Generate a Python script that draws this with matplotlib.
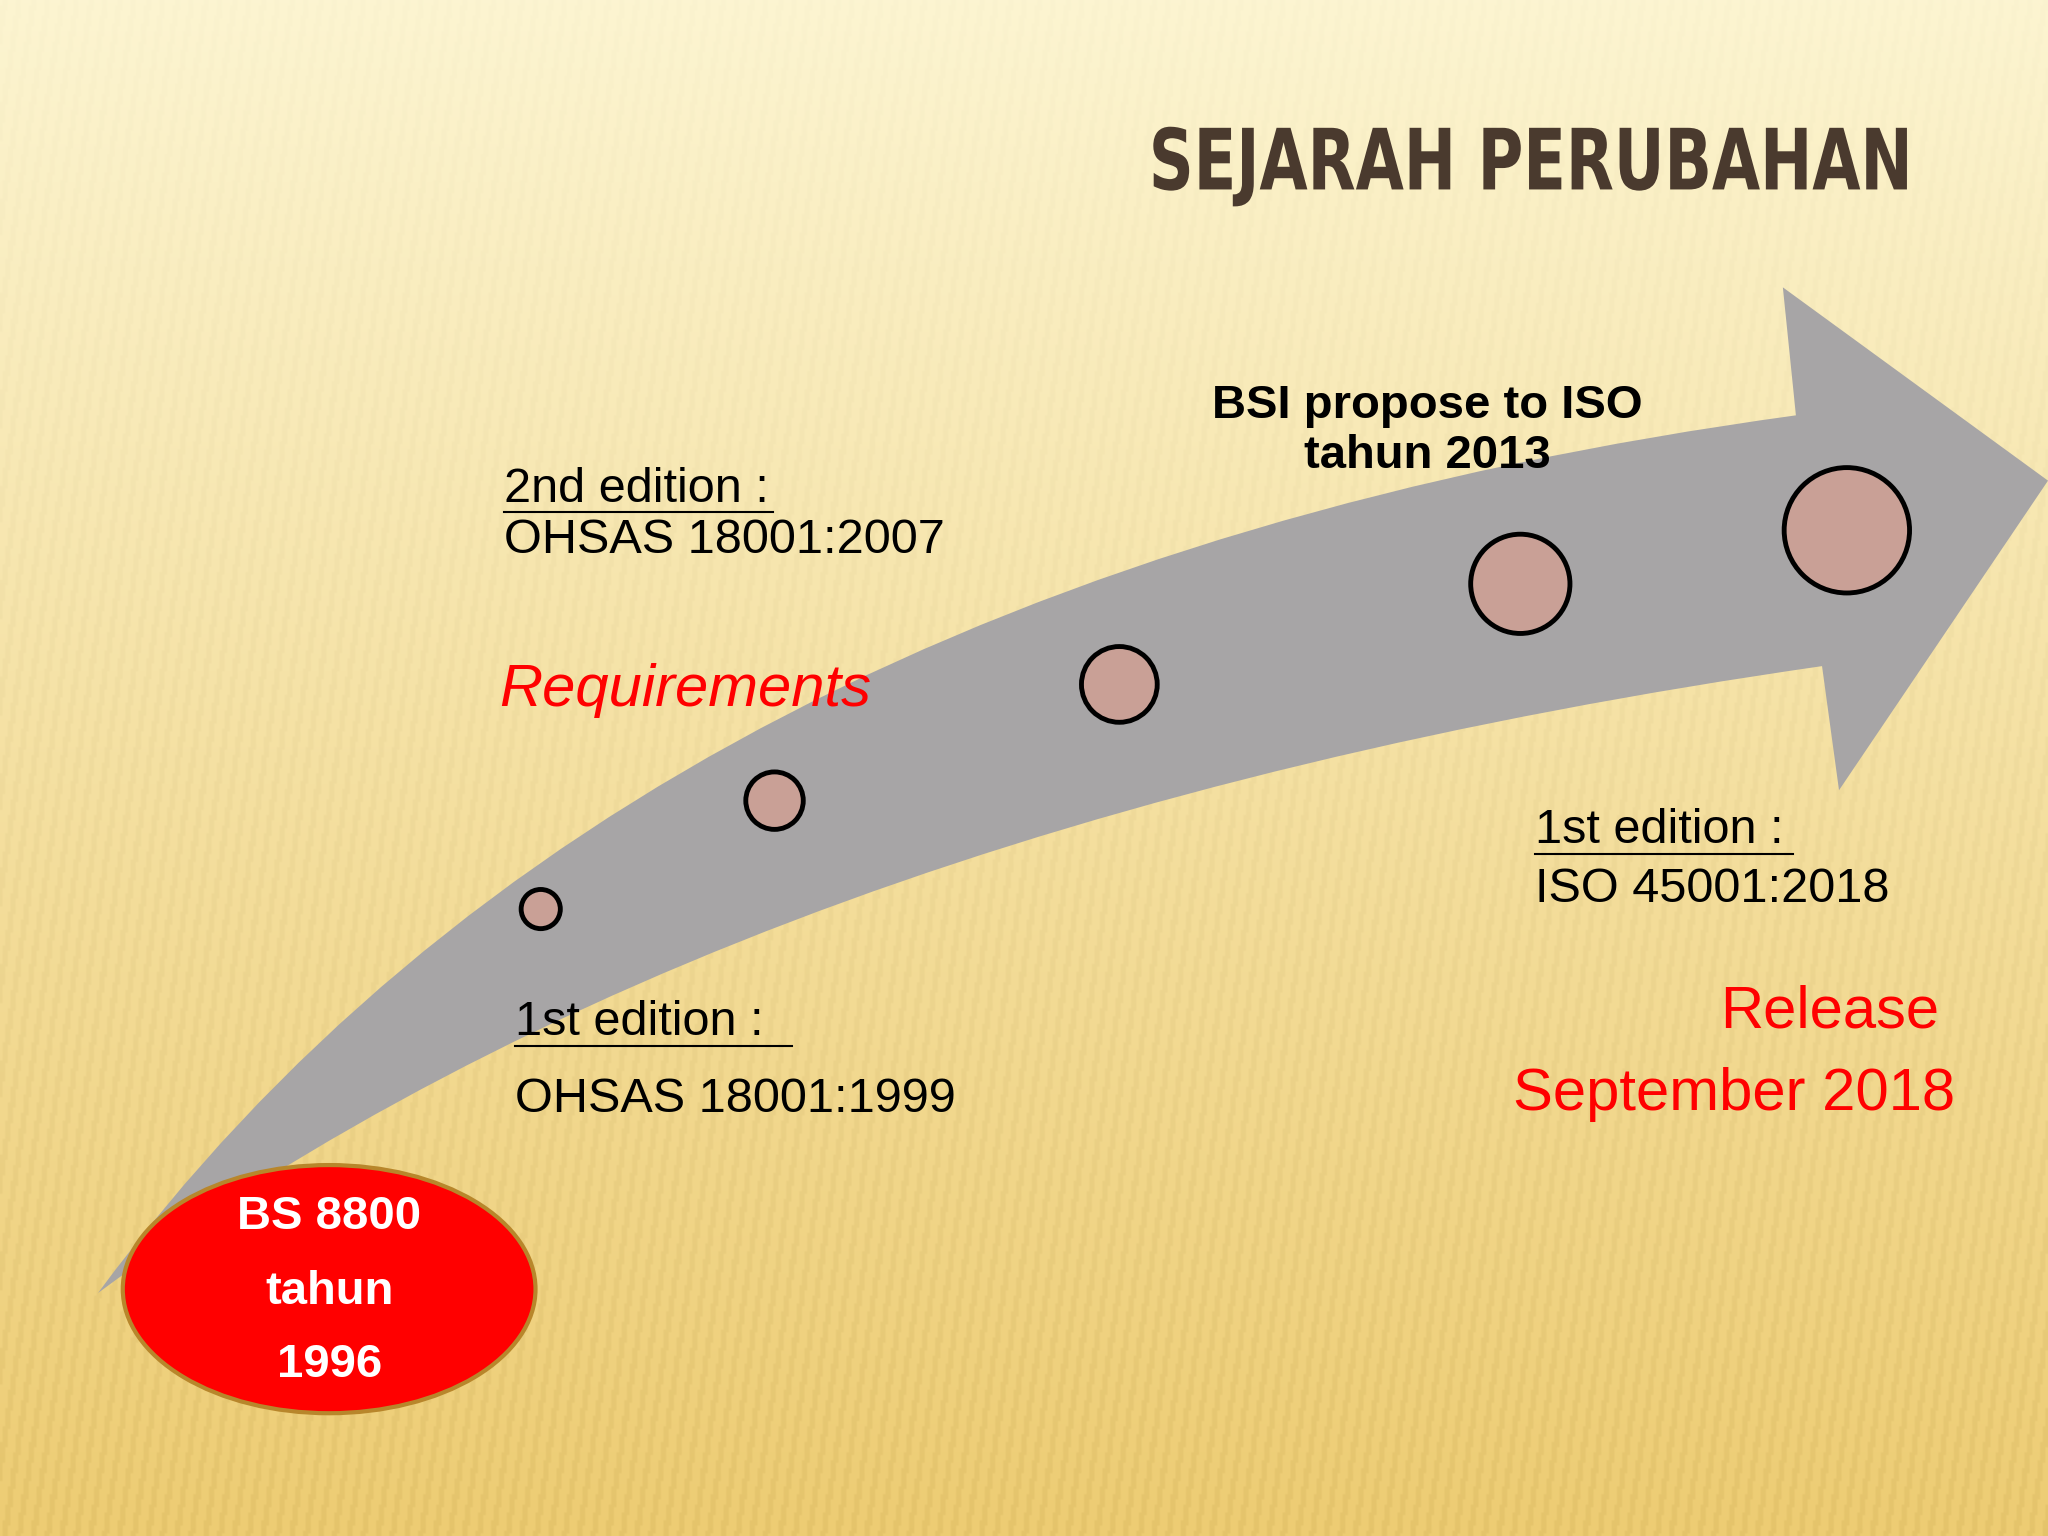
import numpy as np
import matplotlib
matplotlib.use("Agg")
import matplotlib.pyplot as plt
from matplotlib.path import Path
from matplotlib.patches import PathPatch, Circle, Ellipse
from matplotlib.textpath import TextPath
from matplotlib.font_manager import FontProperties
from matplotlib.transforms import Affine2D

# canvas units: 1568 x 1176 (reference layout)
W, H = 1568, 1176

circle_x = [414, 593, 857, 1164, 1414]
circle_y = [696, 613, 524, 447, 406]
circle_r = [15, 22, 29, 38, 48]

title = "SEJARAH PERUBAHAN"

plt.rcParams["font.family"] = ["Liberation Sans", "DejaVu Sans"]

fig = plt.figure(figsize=(20.48, 15.36), dpi=100)
ax = fig.add_axes([0, 0, 1, 1])
ax.set_xlim(0, W)
ax.set_ylim(H, 0)
ax.axis("off")

# background: cream-to-gold gradient with faint vertical stripes
yy, xx = np.mgrid[0:H:2, 0:W:2]
t = np.clip(yy / H, 0, 1)
top = np.array([0.99, 0.96, 0.82])
bot = np.array([0.93, 0.80, 0.45])
img = top[None, None, :] * (1 - t[..., None]) + bot[None, None, :] * t[..., None]
stripes = 0.025 * (np.sin((xx + yy * 0.15) * 2 * np.pi / 11) > 0.3)
img = np.clip(img - stripes[..., None] * (0.3 + t[..., None]), 0, 1)
ax.imshow(img, extent=[0, W, H, 0], zorder=0, aspect="auto")

# curved arrow
verts = [(75, 990), (480, 440), (1375, 318), (1365, 220), (1568, 368),
         (1408, 605), (1395, 510), (560, 630), (75, 990)]
codes = [Path.MOVETO, Path.CURVE3, Path.CURVE3, Path.LINETO, Path.LINETO,
         Path.LINETO, Path.LINETO, Path.CURVE3, Path.CURVE3]
ax.add_patch(PathPatch(Path(verts, codes), facecolor="#a7a5a6", edgecolor="none", zorder=2))

for x, y, r in zip(circle_x, circle_y, circle_r):
    ax.add_patch(Circle((x, y), r, facecolor="#c9a096", edgecolor="black", lw=3.5, zorder=3))

ax.add_patch(Ellipse((252, 987), 316, 190, facecolor="#ff0000", edgecolor="#b8862b", lw=3, zorder=3))
for txt, y in zip(["BS 8800", "tahun", "1996"], [932, 989, 1045]):
    ax.text(252, y, txt, color="white", fontsize=34, fontweight="bold", ha="center", va="center", zorder=4)

# title: condensed glyph outlines squeezed into the reference box
tp = TextPath((0, 0), title, size=100,
              prop=FontProperties(family="DejaVu Sans", weight="bold", stretch="condensed"))
ext = tp.get_extents()
x0, x1, ytop, ybot = 883, 1460, 97, 158
tr = (Affine2D().translate(-ext.x0, -ext.y0)
      .scale((x1 - x0) / ext.width, -(ybot - ytop) / ext.height)
      .translate(x0, ybot))
ax.add_patch(PathPatch(tr.transform_path(tp), facecolor="#4a3a2e", edgecolor="none", zorder=4))

blk = dict(color="black", fontsize=35, zorder=4)
ax.text(386, 375, "2nd edition :", va="center", **blk)
ax.plot([386, 592], [392, 392], color="black", lw=1.5, zorder=4)
ax.text(386, 414, "OHSAS 18001:2007", va="center", **blk)
ax.text(382, 529, "Requirements", color="red", fontsize=43, style="italic", va="center", zorder=4)

ax.text(1093, 311, "BSI propose to ISO", ha="center", va="center", color="black", fontsize=34,
        fontweight="bold", zorder=4)
ax.text(1093, 349, "tahun 2013", ha="center", va="center", color="black", fontsize=34,
        fontweight="bold", zorder=4)

ax.text(394, 783, "1st edition :", va="center", **blk)
ax.plot([394, 606], [801, 801], color="black", lw=1.5, zorder=4)
ax.text(394, 842, "OHSAS 18001:1999", va="center", **blk)

ax.text(1175, 636, "1st edition :", va="center", **blk)
ax.plot([1175, 1373], [654, 654], color="black", lw=1.5, zorder=4)
ax.text(1175, 681, "ISO 45001:2018", va="center", **blk)

ax.text(1485, 775, "Release", color="red", fontsize=43, ha="right", va="center", zorder=4)
ax.text(1497, 838, "September 2018", color="red", fontsize=43, ha="right", va="center", zorder=4)

fig.savefig("out.png", dpi=100)
